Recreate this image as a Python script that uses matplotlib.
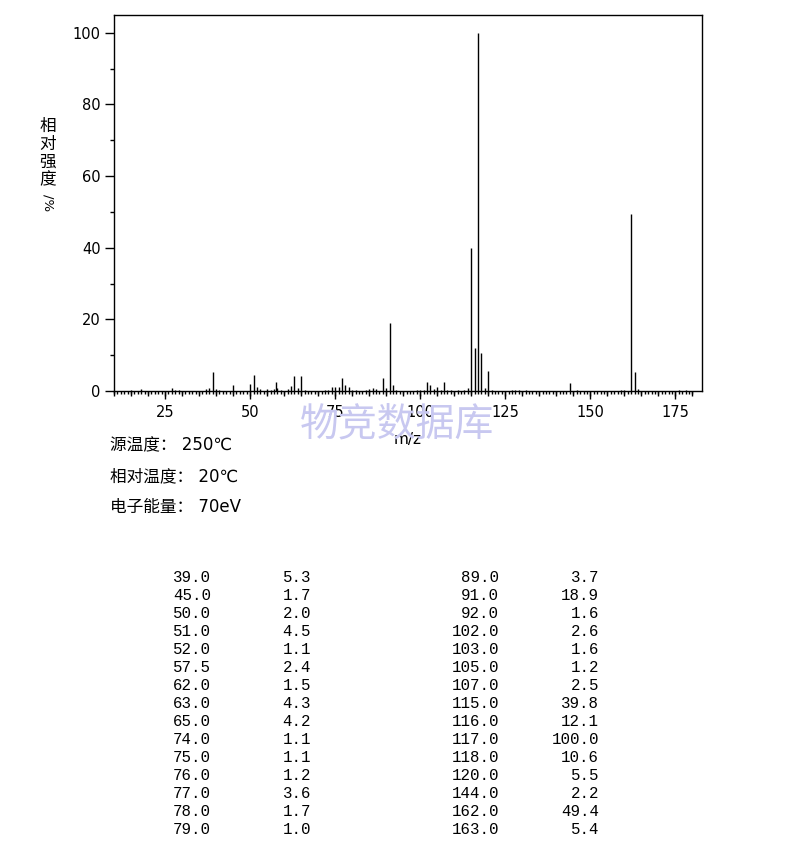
import numpy as np
import matplotlib
matplotlib.use("Agg")
import matplotlib.pyplot as plt

plt.rcParams['font.family'] = ['DejaVu Sans', 'Noto Sans CJK SC']

# peaks listed in the table (m/z, relative intensity %)
mz_main = [39.0, 45.0, 50.0, 51.0, 52.0, 57.5, 62.0, 63.0, 65.0, 74.0, 75.0, 76.0, 77.0, 78.0, 79.0,
           89.0, 91.0, 92.0, 102.0, 103.0, 105.0, 107.0, 115.0, 116.0, 117.0, 118.0, 120.0, 144.0, 162.0, 163.0]
int_main = [5.3, 1.7, 2.0, 4.5, 1.1, 2.4, 1.5, 4.3, 4.2, 1.1, 1.1, 1.2, 3.6, 1.7, 1.0,
            3.7, 18.9, 1.6, 2.6, 1.6, 1.2, 2.5, 39.8, 12.1, 100.0, 10.6, 5.5, 2.2, 49.4, 5.4]

# small peaks seen only in the plot
mz_small = [15, 18, 27, 28, 29, 37, 38, 40, 41, 53, 55, 56, 57, 58, 59, 61, 64, 66, 72, 73,
            80, 81, 84, 85, 86, 87, 90, 93, 99, 100, 101, 104, 106, 108, 109, 111, 113, 114,
            119, 121, 127, 128, 129, 131, 146, 159, 160, 164, 176, 178]
int_small = [0.3, 0.5, 0.8, 0.4, 0.3, 0.5, 0.9, 0.5, 0.3, 0.6, 0.5, 0.4, 0.5, 0.7, 0.3, 0.5, 0.9, 0.3, 0.3, 0.4,
             0.4, 0.3, 0.3, 0.6, 0.8, 0.5, 0.8, 0.3, 0.3, 0.4, 0.3, 0.5, 0.3, 0.3, 0.3, 0.3, 0.4, 0.7,
             0.7, 0.4, 0.3, 0.3, 0.3, 0.3, 0.3, 0.4, 0.4, 0.5, 0.3, 0.3]

info_lines = ["源温度： 250℃", "相对温度： 20℃", "电子能量： 70eV"]

fig = plt.figure(figsize=(7.94, 8.5), dpi=100)
ax = fig.add_axes([0.1436, 0.54, 0.7404, 0.4424])

ax.vlines(mz_small, 0, int_small, color='black', lw=1.0)
ax.vlines(mz_main, 0, int_main, color='black', lw=1.0)

ax.set_xlim(10, 182.8)
ax.set_ylim(0, 105)
for s in ax.spines.values():
    s.set_linewidth(1.0)

ax.set_xticks(np.arange(25, 176, 25))
ax.set_xticks(np.arange(10, 181, 1), minor=True)
ax.set_yticks(np.arange(0, 101, 20))
ax.set_yticks(np.arange(10, 100, 20), minor=True)
ax.tick_params(axis='x', which='major', length=6, width=1, labelsize=10.5, pad=4)
ax.tick_params(axis='x', which='minor', length=2.3, width=1)
ax.tick_params(axis='y', which='major', length=6.5, width=1, labelsize=10.5, pad=3)
ax.tick_params(axis='y', which='minor', length=3, width=1)

# medium ticks every 5
sec = ax.secondary_xaxis('bottom')
sec.set_xticks(np.arange(10, 181, 5))
sec.tick_params(length=3.8, width=1, labelbottom=False)
sec.spines['bottom'].set_visible(False)

ax.set_xlabel("m/z", fontsize=11, labelpad=9)

fig.text(0.5, 0.5, "物竞数据库", fontsize=28, color='#c8c8f0',
         family=['Noto Sans CJK SC'], ha='center', va='center', zorder=0)

fig.text(0.0605, 0.82, "相\n对\n强\n度", fontsize=12, ha='center', va='center',
         linespacing=1.05, family=['Noto Sans CJK SC'])
fig.text(0.0605, 0.7715, "/%", fontsize=9.5, ha='center', va='top', rotation=270)

for i, line in enumerate(info_lines):
    fig.text(0.1385, 0.4765 - i * 0.0366, line, fontsize=12, ha='left', va='center')

mono = 'Liberation Mono'
for i in range(15):
    y = 1 - (577 + 18 * i) / 850
    fig.text(211 / 794, y, f"{mz_main[i]:.1f}", family=mono, fontsize=11.3, ha='right', va='center')
    fig.text(311 / 794, y, f"{int_main[i]:.1f}", family=mono, fontsize=11.3, ha='right', va='center')
    fig.text(499 / 794, y, f"{mz_main[i + 15]:.1f}", family=mono, fontsize=11.3, ha='right', va='center')
    fig.text(599 / 794, y, f"{int_main[i + 15]:.1f}", family=mono, fontsize=11.3, ha='right', va='center')

fig.savefig("out.png", dpi=100)
